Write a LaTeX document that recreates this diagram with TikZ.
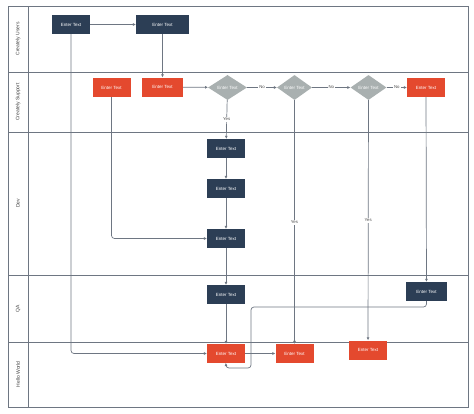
\documentclass[tikz,border=0pt]{standalone}
\usepackage{fontspec}
\setmainfont{Liberation Sans}
\usetikzlibrary{shapes.geometric, arrows.meta, positioning}

\definecolor{navybox}{HTML}{2C3E55}
\definecolor{brickbox}{HTML}{E4492E}
\definecolor{slatebox}{HTML}{A9B0B0}
\definecolor{wire}{HTML}{6E7682}

\begin{document}
\begin{tikzpicture}[
    x=1pt, y=-1pt,
    devbox/.style={rectangle, minimum width=38pt, minimum height=19pt, inner sep=0pt, text centered, fill=navybox, text=white, font=\fontsize{4.5}{5}\selectfont},
    taskbox/.style={rectangle, minimum width=38pt, minimum height=19pt, inner sep=0pt, text centered, fill=brickbox, text=white, font=\fontsize{4.5}{5}\selectfont},
    decision/.style={diamond, minimum width=38pt, minimum height=25pt, inner sep=0pt, text centered, fill=slatebox, text=white, font=\fontsize{4.5}{5}\selectfont},
    lanename/.style={rotate=90, text=black!75, font=\fontsize{5}{6}\selectfont},
    lane/.style={draw=wire, line width=0.8pt},
    arrow/.style={-{Latex[length=3pt, width=3pt]}, draw=wire, line width=0.7pt},
    tag/.style={fill=white, inner sep=1pt, text=black!70, font=\fontsize{4.3}{5}\selectfont}
]
\useasboundingbox (0,0) rectangle (474,413);

% swimlanes
\draw [lane] (8,6) rectangle (468,407);
\draw [lane] (28,6) -- (28,407);
\foreach \y in {72,132,275,342}
    \draw [lane] (8,\y) -- (468,\y);

\node [lanename] (lusers) at (18,39) {Creately Users};
\node [lanename] (lsupport) at (18,102) {Creately Support};
\node [lanename] (ldev) at (18,203.5) {Dev};
\node [lanename] (lqa) at (18,308.5) {QA};
\node [lanename] (lhello) at (18,374.5) {Hello World};

% creately users
\node (user1) [devbox] at (71,24.5) {Enter Text};
\node (user2) [devbox, minimum width=53pt] at (162.5,24.5) {Enter Text};

% creately support
\node (supp1) [taskbox] at (111.5,87.5) {Enter Text};
\node (supp2) [taskbox, minimum width=41pt] at (162.5,87) {Enter Text};
\node (dec1) [decision, minimum width=39pt] at (227.5,87.5) {Enter Text};
\node (dec2) [decision, minimum width=35pt] at (294.5,87.5) {Enter Text};
\node (dec3) [decision, minimum width=36pt] at (368.5,87.5) {Enter Text};
\node (supp3) [taskbox] at (426,87.5) {Enter Text};

% dev
\node (dev1) [devbox] at (226,148.5) {Enter Text};
\node (dev2) [devbox] at (226,188.5) {Enter Text};
\node (dev3) [devbox] at (226,238.5) {Enter Text};

% qa
\node (qa1) [devbox] at (226,294.5) {Enter Text};
\node (qa2) [devbox, minimum width=41pt] at (426.5,291.5) {Enter Text};

% hello world
\node (hello1) [taskbox] at (226,353.5) {Enter Text};
\node (hello2) [taskbox] at (294.5,353.5) {Enter Text};
\node (hello3) [taskbox] at (368,350) {Enter Text};

\coordinate (qaback) at (251,307);
\coordinate (hwback) at (251,368);

\draw [arrow] (user1) -- (user2);
\draw [arrow, rounded corners=3pt] (user1.south) |- (hello1.west);
\draw [arrow] (user2) -- (supp2);
\draw [arrow] (supp2) -- (dec1);
\draw [arrow] (dec1) -- node[tag] {No} (dec2);
\draw [arrow] (dec2) -- node[tag] {No} (dec3);
\draw [arrow] (dec3) -- node[tag] {No} (supp3);
\draw [arrow] (dec1) -- node[tag] {Yes} (dev1);
\draw [arrow] (dev1) -- (dev2);
\draw [arrow] (dev2) -- (dev3);
\draw [arrow, rounded corners=3pt] (supp1.south) |- (dev3.west);
\draw [arrow] (dev3) -- (qa1);
\draw [arrow] (qa1) -- (hello1);
\draw [arrow] (dec2) -- node[tag] {Yes} (hello2);
\draw [arrow] (dec3) -- node[tag] {Yes} (hello3);
\draw [arrow] (supp3) -- (qa2);
\draw [arrow, rounded corners=3pt] (qa2.south) |- (qaback) -- (hwback) -| (hello1.south);
\draw [arrow] (hello1) -- (hello2);

\end{tikzpicture}
\end{document}
